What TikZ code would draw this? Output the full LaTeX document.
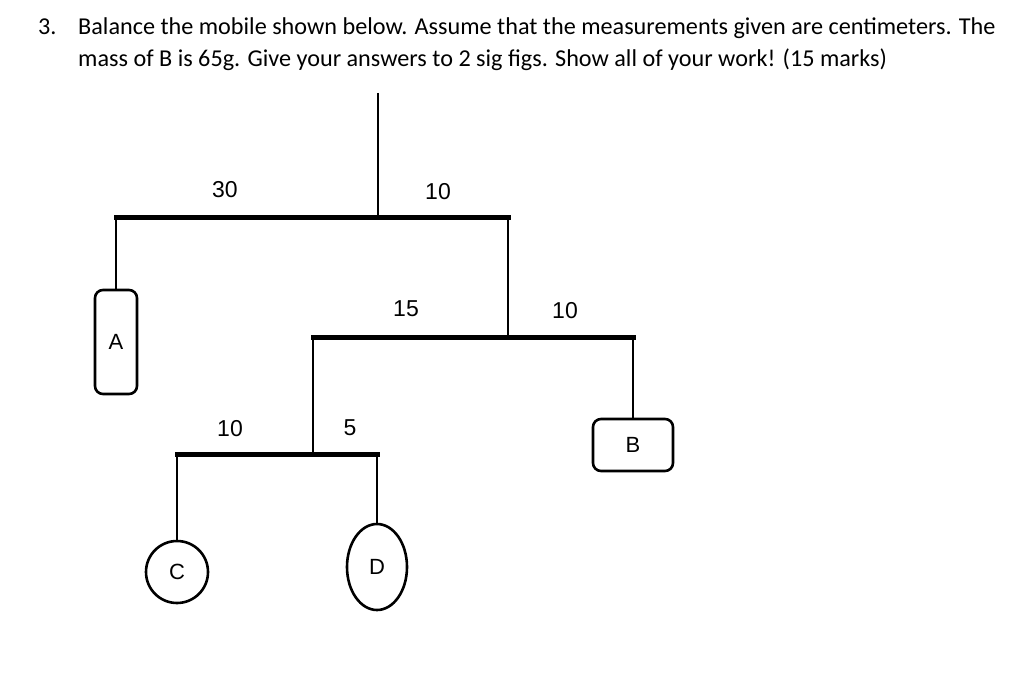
\documentclass[tikz,border=0pt]{standalone}
\usepackage{fontspec}
\setmainfont{Carlito}
\newfontfamily\helv{Liberation Sans}
\usetikzlibrary{shapes.geometric}

\tikzset{
  beam/.style={line width=5pt,line cap=rect},
  rod/.style={line width=2.6pt},
  weight/.style={draw,line width=2.6pt,inner sep=0pt,font=\helv\fontsize{22}{22}\selectfont},
  len/.style={font=\helv\fontsize{23}{23}\selectfont,inner sep=0pt},
  question/.style={anchor=base west,inner sep=0pt,font=\fontsize{24.2}{28}\selectfont}
}

\begin{document}
\begin{tikzpicture}[x=1pt,y=-1pt]
\useasboundingbox (0,0) rectangle (1024,690);
\node[question] (num) at (38,35) {3.};
\node[question] (line1) at (78,35) {Balance the mobile shown below. Assume that the measurements given are centimeters. The};
\node[question] (line2) at (78,67) {mass of B is 65g. Give your answers to 2 sig figs. Show all of your work! (15 marks)};

\coordinate (hook) at (378,93);
\coordinate (pivot1) at (378,217);
\coordinate (end1l) at (116,217);
\coordinate (end1r) at (508,217);
\coordinate (pivot2) at (508,337);
\coordinate (end2l) at (313,337);
\coordinate (end2r) at (633,337);
\coordinate (pivot3) at (313,454);
\coordinate (end3l) at (177,454);
\coordinate (end3r) at (377,454);

\node[weight,rectangle,rounded corners=8pt,minimum width=42pt,minimum height=104pt] (A) at (116,342) {A};
\node[weight,rectangle,rounded corners=8pt,minimum width=80pt,minimum height=52pt] (B) at (633,445) {B};
\node[weight,circle,minimum size=62pt] (C) at (177,572) {C};
\node[weight,ellipse,minimum width=60pt,minimum height=86pt] (D) at (377,567) {D};

\draw[rod] (hook) -- (pivot1);
\draw[beam] (end1l) -- (end1r);
\draw[rod] (end1l) -- (A.north);
\draw[rod] (end1r) -- (pivot2);
\draw[beam] (end2l) -- (end2r);
\draw[rod] (end2r) -- (B.north);
\draw[rod] (end2l) -- (pivot3);
\draw[beam] (end3l) -- (end3r);
\draw[rod] (end3l) -- (C.north);
\draw[rod] (end3r) -- (D.north);

\node[len] (l30) at (225,190) {30};
\node[len] (l10a) at (438,192) {10};
\node[len] (l15) at (406,309) {15};
\node[len] (l10b) at (565,311) {10};
\node[len] (l10c) at (230,429) {10};
\node[len] (l5) at (350,428) {5};
\end{tikzpicture}
\end{document}
